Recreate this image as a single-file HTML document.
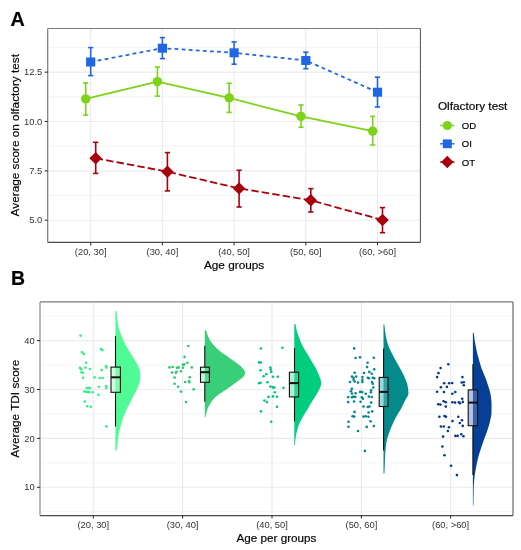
<!DOCTYPE html><html><head><meta charset="utf-8"><style>html,body{margin:0;padding:0;background:#fff;}svg{display:block;filter:blur(0.35px);}text{font-family:"Liberation Sans", sans-serif;stroke-width:0.18px;}</style></head><body>
<svg width="521" height="550" viewBox="0 0 521 550">
<line x1="47.7" y1="195.52" x2="420.45" y2="195.52" stroke="#ebebeb" stroke-width="0.6"/>
<line x1="47.7" y1="146.18" x2="420.45" y2="146.18" stroke="#ebebeb" stroke-width="0.6"/>
<line x1="47.7" y1="96.83" x2="420.45" y2="96.83" stroke="#ebebeb" stroke-width="0.6"/>
<line x1="47.7" y1="47.48" x2="420.45" y2="47.48" stroke="#ebebeb" stroke-width="0.6"/>
<line x1="47.7" y1="220.20" x2="420.45" y2="220.20" stroke="#ebebeb" stroke-width="1.1"/>
<line x1="47.7" y1="170.85" x2="420.45" y2="170.85" stroke="#ebebeb" stroke-width="1.1"/>
<line x1="47.7" y1="121.50" x2="420.45" y2="121.50" stroke="#ebebeb" stroke-width="1.1"/>
<line x1="47.7" y1="72.15" x2="420.45" y2="72.15" stroke="#ebebeb" stroke-width="1.1"/>
<line x1="90.7" y1="28.5" x2="90.7" y2="242.4" stroke="#ebebeb" stroke-width="1.1"/>
<line x1="162.4" y1="28.5" x2="162.4" y2="242.4" stroke="#ebebeb" stroke-width="1.1"/>
<line x1="234.1" y1="28.5" x2="234.1" y2="242.4" stroke="#ebebeb" stroke-width="1.1"/>
<line x1="305.8" y1="28.5" x2="305.8" y2="242.4" stroke="#ebebeb" stroke-width="1.1"/>
<line x1="377.5" y1="28.5" x2="377.5" y2="242.4" stroke="#ebebeb" stroke-width="1.1"/>
<polyline points="85.7,98.9 157.4,81.6 229.2,97.9 301.0,116.4 372.7,131.1" fill="none" stroke="#7dd21a" stroke-width="1.65"/>
<line x1="85.7" y1="82.9" x2="85.7" y2="115.1" stroke="#7dd21a" stroke-width="1.6"/>
<line x1="83.10000000000001" y1="82.9" x2="88.3" y2="82.9" stroke="#7dd21a" stroke-width="1.6"/>
<line x1="83.10000000000001" y1="115.1" x2="88.3" y2="115.1" stroke="#7dd21a" stroke-width="1.6"/>
<line x1="157.4" y1="67.0" x2="157.4" y2="96.1" stroke="#7dd21a" stroke-width="1.6"/>
<line x1="154.8" y1="67.0" x2="160.0" y2="67.0" stroke="#7dd21a" stroke-width="1.6"/>
<line x1="154.8" y1="96.1" x2="160.0" y2="96.1" stroke="#7dd21a" stroke-width="1.6"/>
<line x1="229.2" y1="83.3" x2="229.2" y2="112.4" stroke="#7dd21a" stroke-width="1.6"/>
<line x1="226.6" y1="83.3" x2="231.79999999999998" y2="83.3" stroke="#7dd21a" stroke-width="1.6"/>
<line x1="226.6" y1="112.4" x2="231.79999999999998" y2="112.4" stroke="#7dd21a" stroke-width="1.6"/>
<line x1="301.0" y1="105.0" x2="301.0" y2="127.3" stroke="#7dd21a" stroke-width="1.6"/>
<line x1="298.4" y1="105.0" x2="303.6" y2="105.0" stroke="#7dd21a" stroke-width="1.6"/>
<line x1="298.4" y1="127.3" x2="303.6" y2="127.3" stroke="#7dd21a" stroke-width="1.6"/>
<line x1="372.7" y1="116.4" x2="372.7" y2="145.0" stroke="#7dd21a" stroke-width="1.6"/>
<line x1="370.09999999999997" y1="116.4" x2="375.3" y2="116.4" stroke="#7dd21a" stroke-width="1.6"/>
<line x1="370.09999999999997" y1="145.0" x2="375.3" y2="145.0" stroke="#7dd21a" stroke-width="1.6"/>
<polyline points="90.7,62.0 162.4,48.2 234.1,52.8 305.8,60.5 377.5,92.2" fill="none" stroke="#1f66e5" stroke-width="1.75" stroke-dasharray="3.8 3.3"/>
<line x1="90.7" y1="47.6" x2="90.7" y2="75.6" stroke="#1f66e5" stroke-width="1.6"/>
<line x1="88.10000000000001" y1="47.6" x2="93.3" y2="47.6" stroke="#1f66e5" stroke-width="1.6"/>
<line x1="88.10000000000001" y1="75.6" x2="93.3" y2="75.6" stroke="#1f66e5" stroke-width="1.6"/>
<line x1="162.4" y1="37.6" x2="162.4" y2="58.6" stroke="#1f66e5" stroke-width="1.6"/>
<line x1="159.8" y1="37.6" x2="165.0" y2="37.6" stroke="#1f66e5" stroke-width="1.6"/>
<line x1="159.8" y1="58.6" x2="165.0" y2="58.6" stroke="#1f66e5" stroke-width="1.6"/>
<line x1="234.1" y1="41.9" x2="234.1" y2="64.2" stroke="#1f66e5" stroke-width="1.6"/>
<line x1="231.5" y1="41.9" x2="236.7" y2="41.9" stroke="#1f66e5" stroke-width="1.6"/>
<line x1="231.5" y1="64.2" x2="236.7" y2="64.2" stroke="#1f66e5" stroke-width="1.6"/>
<line x1="305.8" y1="52.2" x2="305.8" y2="68.7" stroke="#1f66e5" stroke-width="1.6"/>
<line x1="303.2" y1="52.2" x2="308.40000000000003" y2="52.2" stroke="#1f66e5" stroke-width="1.6"/>
<line x1="303.2" y1="68.7" x2="308.40000000000003" y2="68.7" stroke="#1f66e5" stroke-width="1.6"/>
<line x1="377.5" y1="77.2" x2="377.5" y2="107.0" stroke="#1f66e5" stroke-width="1.6"/>
<line x1="374.9" y1="77.2" x2="380.1" y2="77.2" stroke="#1f66e5" stroke-width="1.6"/>
<line x1="374.9" y1="107.0" x2="380.1" y2="107.0" stroke="#1f66e5" stroke-width="1.6"/>
<polyline points="95.7,158.2 167.4,171.7 239.1,188.4 310.8,200.3 382.5,220.0" fill="none" stroke="#a8000c" stroke-width="1.8" stroke-dasharray="7.4 3.2"/>
<line x1="95.7" y1="142.3" x2="95.7" y2="173.4" stroke="#a8000c" stroke-width="1.6"/>
<line x1="93.10000000000001" y1="142.3" x2="98.3" y2="142.3" stroke="#a8000c" stroke-width="1.6"/>
<line x1="93.10000000000001" y1="173.4" x2="98.3" y2="173.4" stroke="#a8000c" stroke-width="1.6"/>
<line x1="167.4" y1="152.6" x2="167.4" y2="190.9" stroke="#a8000c" stroke-width="1.6"/>
<line x1="164.8" y1="152.6" x2="170.0" y2="152.6" stroke="#a8000c" stroke-width="1.6"/>
<line x1="164.8" y1="190.9" x2="170.0" y2="190.9" stroke="#a8000c" stroke-width="1.6"/>
<line x1="239.1" y1="170.3" x2="239.1" y2="207.0" stroke="#a8000c" stroke-width="1.6"/>
<line x1="236.5" y1="170.3" x2="241.7" y2="170.3" stroke="#a8000c" stroke-width="1.6"/>
<line x1="236.5" y1="207.0" x2="241.7" y2="207.0" stroke="#a8000c" stroke-width="1.6"/>
<line x1="310.8" y1="188.6" x2="310.8" y2="212.0" stroke="#a8000c" stroke-width="1.6"/>
<line x1="308.2" y1="188.6" x2="313.40000000000003" y2="188.6" stroke="#a8000c" stroke-width="1.6"/>
<line x1="308.2" y1="212.0" x2="313.40000000000003" y2="212.0" stroke="#a8000c" stroke-width="1.6"/>
<line x1="382.5" y1="207.6" x2="382.5" y2="232.7" stroke="#a8000c" stroke-width="1.6"/>
<line x1="379.9" y1="207.6" x2="385.1" y2="207.6" stroke="#a8000c" stroke-width="1.6"/>
<line x1="379.9" y1="232.7" x2="385.1" y2="232.7" stroke="#a8000c" stroke-width="1.6"/>
<circle cx="85.7" cy="98.9" r="4.7" fill="#7dd21a"/>
<circle cx="157.4" cy="81.6" r="4.7" fill="#7dd21a"/>
<circle cx="229.2" cy="97.9" r="4.7" fill="#7dd21a"/>
<circle cx="301.0" cy="116.4" r="4.7" fill="#7dd21a"/>
<circle cx="372.7" cy="131.1" r="4.7" fill="#7dd21a"/>
<rect x="86.10000000000001" y="57.5" width="9.2" height="9" fill="#1f66e5"/>
<rect x="157.8" y="43.7" width="9.2" height="9" fill="#1f66e5"/>
<rect x="229.5" y="48.3" width="9.2" height="9" fill="#1f66e5"/>
<rect x="301.2" y="56.0" width="9.2" height="9" fill="#1f66e5"/>
<rect x="372.9" y="87.7" width="9.2" height="9" fill="#1f66e5"/>
<path d="M95.7 152.0 L102.0 158.2 L95.7 164.39999999999998 L89.4 158.2 Z" fill="#a8000c"/>
<path d="M167.4 165.5 L173.70000000000002 171.7 L167.4 177.89999999999998 L161.1 171.7 Z" fill="#a8000c"/>
<path d="M239.1 182.20000000000002 L245.4 188.4 L239.1 194.6 L232.79999999999998 188.4 Z" fill="#a8000c"/>
<path d="M310.8 194.10000000000002 L317.1 200.3 L310.8 206.5 L304.5 200.3 Z" fill="#a8000c"/>
<path d="M382.5 213.8 L388.8 220.0 L382.5 226.2 L376.2 220.0 Z" fill="#a8000c"/>
<line x1="47.7" y1="28.5" x2="420.45" y2="28.5" stroke="#7a7a7a" stroke-width="1.2"/>
<line x1="420.45" y1="28.5" x2="420.45" y2="242.4" stroke="#666" stroke-width="1.2"/>
<line x1="47.7" y1="242.4" x2="420.45" y2="242.4" stroke="#4a4a4a" stroke-width="1.2"/>
<line x1="47.7" y1="28.5" x2="47.7" y2="242.4" stroke="#7a7a7a" stroke-width="1.2"/>
<line x1="44.7" y1="220.20" x2="47.7" y2="220.20" stroke="#333333" stroke-width="1.1"/>
<text x="42.30" y="223.30" font-size="9.35" fill="#333333" text-anchor="end">5.0</text>
<line x1="44.7" y1="170.85" x2="47.7" y2="170.85" stroke="#333333" stroke-width="1.1"/>
<text x="42.30" y="173.95" font-size="9.35" fill="#333333" text-anchor="end">7.5</text>
<line x1="44.7" y1="121.50" x2="47.7" y2="121.50" stroke="#333333" stroke-width="1.1"/>
<text x="42.30" y="124.60" font-size="9.35" fill="#333333" text-anchor="end">10.0</text>
<line x1="44.7" y1="72.15" x2="47.7" y2="72.15" stroke="#333333" stroke-width="1.1"/>
<text x="42.30" y="75.25" font-size="9.35" fill="#333333" text-anchor="end">12.5</text>
<line x1="90.7" y1="242.4" x2="90.7" y2="245.4" stroke="#333333" stroke-width="1.1"/>
<text x="90.7" y="254.70" font-size="9.35" fill="#333333" text-anchor="middle">(20, 30]</text>
<line x1="162.4" y1="242.4" x2="162.4" y2="245.4" stroke="#333333" stroke-width="1.1"/>
<text x="162.4" y="254.70" font-size="9.35" fill="#333333" text-anchor="middle">(30, 40]</text>
<line x1="234.1" y1="242.4" x2="234.1" y2="245.4" stroke="#333333" stroke-width="1.1"/>
<text x="234.1" y="254.70" font-size="9.35" fill="#333333" text-anchor="middle">(40, 50]</text>
<line x1="305.8" y1="242.4" x2="305.8" y2="245.4" stroke="#333333" stroke-width="1.1"/>
<text x="305.8" y="254.70" font-size="9.35" fill="#333333" text-anchor="middle">(50, 60]</text>
<line x1="377.5" y1="242.4" x2="377.5" y2="245.4" stroke="#333333" stroke-width="1.1"/>
<text x="377.5" y="254.70" font-size="9.35" fill="#333333" text-anchor="middle">(60, &gt;60]</text>
<text x="234.1" y="268.6" font-size="11.8" fill="#000" stroke="#000" text-anchor="middle">Age groups</text>
<text transform="translate(18.6,135.2) rotate(-90)" x="0" y="0" font-size="11.8" fill="#000" stroke="#000" text-anchor="middle">Average score on olfactory test</text>
<text x="10.4" y="25.7" font-size="19.8" font-weight="bold" fill="#000" stroke="#000">A</text>
<text x="437.9" y="109.9" font-size="11.8" fill="#000" stroke="#000">Olfactory test</text>
<line x1="440.1" y1="125.5" x2="454.5" y2="125.5" stroke="#7dd21a" stroke-width="1.4"/>
<circle cx="447.3" cy="125.5" r="4.6" fill="#7dd21a"/>
<text x="461.7" y="129.10" font-size="9.6" fill="#000" stroke="#000">OD</text>
<line x1="440.1" y1="143.8" x2="454.5" y2="143.8" stroke="#1f66e5" stroke-width="1.4"/>
<rect x="442.8" y="139.4" width="9" height="8.8" fill="#1f66e5"/>
<text x="461.7" y="147.40" font-size="9.6" fill="#000" stroke="#000">OI</text>
<line x1="440.1" y1="162.0" x2="454.5" y2="162.0" stroke="#a8000c" stroke-width="1.4"/>
<path d="M447.3 155.8 L453.5 162.0 L447.3 168.2 L441.1 162.0 Z" fill="#a8000c"/>
<text x="461.7" y="165.60" font-size="9.6" fill="#000" stroke="#000">OT</text>
<line x1="40.0" y1="511.75" x2="513.0" y2="511.75" stroke="#ebebeb" stroke-width="0.6"/>
<line x1="40.0" y1="462.85" x2="513.0" y2="462.85" stroke="#ebebeb" stroke-width="0.6"/>
<line x1="40.0" y1="413.95" x2="513.0" y2="413.95" stroke="#ebebeb" stroke-width="0.6"/>
<line x1="40.0" y1="365.05" x2="513.0" y2="365.05" stroke="#ebebeb" stroke-width="0.6"/>
<line x1="40.0" y1="316.15" x2="513.0" y2="316.15" stroke="#ebebeb" stroke-width="0.6"/>
<line x1="40.0" y1="487.30" x2="513.0" y2="487.30" stroke="#ebebeb" stroke-width="1.1"/>
<line x1="40.0" y1="438.40" x2="513.0" y2="438.40" stroke="#ebebeb" stroke-width="1.1"/>
<line x1="40.0" y1="389.50" x2="513.0" y2="389.50" stroke="#ebebeb" stroke-width="1.1"/>
<line x1="40.0" y1="340.60" x2="513.0" y2="340.60" stroke="#ebebeb" stroke-width="1.1"/>
<line x1="93.3" y1="301.9" x2="93.3" y2="515.6" stroke="#ebebeb" stroke-width="1.1"/>
<line x1="182.6" y1="301.9" x2="182.6" y2="515.6" stroke="#ebebeb" stroke-width="1.1"/>
<line x1="272.0" y1="301.9" x2="272.0" y2="515.6" stroke="#ebebeb" stroke-width="1.1"/>
<line x1="361.4" y1="301.9" x2="361.4" y2="515.6" stroke="#ebebeb" stroke-width="1.1"/>
<line x1="450.6" y1="301.9" x2="450.6" y2="515.6" stroke="#ebebeb" stroke-width="1.1"/>
<path d="M115.4 311.1 L116.6 311.1 C116.73 312.35 117.15 316.22 117.40 318.60 C117.65 320.98 117.63 323.13 118.10 325.40 C118.57 327.67 119.40 329.92 120.20 332.20 C121.00 334.48 121.88 336.82 122.90 339.10 C123.92 341.38 125.05 343.63 126.30 345.90 C127.55 348.17 129.03 350.43 130.40 352.70 C131.77 354.97 133.20 357.23 134.50 359.50 C135.80 361.77 137.32 364.38 138.20 366.30 C139.08 368.22 139.45 369.38 139.80 371.00 C140.15 372.62 140.28 374.33 140.30 376.00 C140.32 377.67 140.23 379.33 139.90 381.00 C139.57 382.67 138.80 384.58 138.30 386.00 C137.80 387.42 137.78 387.70 136.90 389.50 C136.02 391.30 134.25 394.37 133.00 396.80 C131.75 399.23 130.60 401.68 129.40 404.10 C128.20 406.52 126.88 408.88 125.80 411.30 C124.72 413.72 123.75 416.17 122.90 418.60 C122.05 421.03 121.38 423.47 120.70 425.90 C120.02 428.33 119.28 430.78 118.80 433.20 C118.32 435.62 118.08 437.98 117.80 440.40 C117.52 442.82 117.30 446.00 117.10 447.70 C116.90 449.40 116.68 450.12 116.60 450.60 L115.4 450.6 Z" fill="#50fb96"/>
<circle cx="80.6" cy="335.6" r="1.3" fill="#2cf282"/>
<circle cx="100.9" cy="349" r="1.3" fill="#2cf282"/>
<circle cx="102.4" cy="350.1" r="1.3" fill="#2cf282"/>
<circle cx="82" cy="352.3" r="1.3" fill="#2cf282"/>
<circle cx="83.9" cy="353.9" r="1.3" fill="#2cf282"/>
<circle cx="86.2" cy="362.7" r="1.3" fill="#2cf282"/>
<circle cx="106" cy="366" r="1.3" fill="#2cf282"/>
<circle cx="106.4" cy="367.6" r="1.3" fill="#2cf282"/>
<circle cx="80" cy="367.9" r="1.3" fill="#2cf282"/>
<circle cx="81.2" cy="369.2" r="1.3" fill="#2cf282"/>
<circle cx="85.5" cy="367.6" r="1.3" fill="#2cf282"/>
<circle cx="89.9" cy="369" r="1.3" fill="#2cf282"/>
<circle cx="101.7" cy="370.1" r="1.3" fill="#2cf282"/>
<circle cx="81.5" cy="372.2" r="1.3" fill="#2cf282"/>
<circle cx="82.9" cy="372.7" r="1.3" fill="#2cf282"/>
<circle cx="83.1" cy="377.7" r="1.3" fill="#2cf282"/>
<circle cx="94.6" cy="377.4" r="1.3" fill="#2cf282"/>
<circle cx="99.7" cy="378" r="1.3" fill="#2cf282"/>
<circle cx="102.8" cy="378" r="1.3" fill="#2cf282"/>
<circle cx="86.8" cy="388" r="1.3" fill="#2cf282"/>
<circle cx="88.6" cy="388" r="1.3" fill="#2cf282"/>
<circle cx="89.7" cy="388" r="1.3" fill="#2cf282"/>
<circle cx="98.8" cy="386.8" r="1.3" fill="#2cf282"/>
<circle cx="106.1" cy="386" r="1.3" fill="#2cf282"/>
<circle cx="106.4" cy="387.9" r="1.3" fill="#2cf282"/>
<circle cx="84.3" cy="391.5" r="1.3" fill="#2cf282"/>
<circle cx="85.9" cy="391.8" r="1.3" fill="#2cf282"/>
<circle cx="87.9" cy="392" r="1.3" fill="#2cf282"/>
<circle cx="89.2" cy="392.2" r="1.3" fill="#2cf282"/>
<circle cx="92.7" cy="392.2" r="1.3" fill="#2cf282"/>
<circle cx="98.5" cy="394.7" r="1.3" fill="#2cf282"/>
<circle cx="84.8" cy="401.5" r="1.3" fill="#2cf282"/>
<circle cx="87.3" cy="406.2" r="1.3" fill="#2cf282"/>
<circle cx="90.8" cy="406.7" r="1.3" fill="#2cf282"/>
<circle cx="106.4" cy="426.4" r="1.3" fill="#2cf282"/>
<line x1="115.5" y1="336.0" x2="115.5" y2="367.1" stroke="#111" stroke-width="1.1"/>
<line x1="115.5" y1="392.3" x2="115.5" y2="426.5" stroke="#111" stroke-width="1.1"/>
<rect x="111.0" y="367.1" width="4.50" height="25.20" fill="#cffde0"/>
<rect x="115.5" y="367.1" width="4.90" height="25.20" fill="#80fbb2"/>
<rect x="111.0" y="367.1" width="9.40" height="25.20" fill="none" stroke="#111" stroke-width="1.1"/>
<line x1="111.0" y1="377.3" x2="120.4" y2="377.3" stroke="#111" stroke-width="2"/>
<path d="M204.8 330.2 L206.0 330.2 C206.37 331.25 207.43 334.65 208.20 336.50 C208.97 338.35 209.55 339.70 210.60 341.30 C211.65 342.90 212.98 344.50 214.50 346.10 C216.02 347.70 217.70 349.30 219.70 350.90 C221.70 352.50 224.25 354.10 226.50 355.70 C228.75 357.30 230.98 358.88 233.20 360.50 C235.42 362.12 238.03 363.90 239.80 365.40 C241.57 366.90 242.93 368.32 243.80 369.50 C244.67 370.68 244.97 371.42 245.00 372.50 C245.03 373.58 244.83 374.82 244.00 376.00 C243.17 377.18 241.80 378.18 240.00 379.60 C238.20 381.02 235.45 382.88 233.20 384.50 C230.95 386.12 228.82 387.70 226.50 389.30 C224.18 390.90 221.47 392.50 219.30 394.10 C217.13 395.70 215.03 397.30 213.50 398.90 C211.97 400.50 211.07 402.10 210.10 403.70 C209.13 405.30 208.33 406.88 207.70 408.50 C207.07 410.12 206.67 411.95 206.30 413.40 C205.93 414.85 205.63 416.57 205.50 417.20 L204.8 417.2 Z" fill="#38cf78"/>
<circle cx="188.3" cy="346" r="1.3" fill="#2cc670"/>
<circle cx="184.6" cy="356.9" r="1.3" fill="#2cc670"/>
<circle cx="187.4" cy="362.7" r="1.3" fill="#2cc670"/>
<circle cx="182.9" cy="364.8" r="1.3" fill="#2cc670"/>
<circle cx="184.2" cy="364.4" r="1.3" fill="#2cc670"/>
<circle cx="169.5" cy="367.4" r="1.3" fill="#2cc670"/>
<circle cx="172.7" cy="367" r="1.3" fill="#2cc670"/>
<circle cx="176.9" cy="367.8" r="1.3" fill="#2cc670"/>
<circle cx="178.5" cy="367.4" r="1.3" fill="#2cc670"/>
<circle cx="182.9" cy="367.8" r="1.3" fill="#2cc670"/>
<circle cx="191.8" cy="367.4" r="1.3" fill="#2cc670"/>
<circle cx="172.1" cy="372.5" r="1.3" fill="#2cc670"/>
<circle cx="175.9" cy="372.8" r="1.3" fill="#2cc670"/>
<circle cx="176.5" cy="371.8" r="1.3" fill="#2cc670"/>
<circle cx="181" cy="371.2" r="1.3" fill="#2cc670"/>
<circle cx="174.6" cy="377.6" r="1.3" fill="#2cc670"/>
<circle cx="189.7" cy="377.2" r="1.3" fill="#2cc670"/>
<circle cx="185.2" cy="382" r="1.3" fill="#2cc670"/>
<circle cx="189" cy="381" r="1.3" fill="#2cc670"/>
<circle cx="189.3" cy="382.3" r="1.3" fill="#2cc670"/>
<circle cx="174.6" cy="383.7" r="1.3" fill="#2cc670"/>
<circle cx="178.2" cy="386.8" r="1.3" fill="#2cc670"/>
<circle cx="193.7" cy="389.4" r="1.3" fill="#2cc670"/>
<circle cx="181" cy="391.6" r="1.3" fill="#2cc670"/>
<circle cx="186.1" cy="402" r="1.3" fill="#2cc670"/>
<line x1="204.8" y1="345.7" x2="204.8" y2="367.2" stroke="#111" stroke-width="1.1"/>
<line x1="204.8" y1="382.3" x2="204.8" y2="401.8" stroke="#111" stroke-width="1.1"/>
<rect x="200.5" y="367.2" width="4.30" height="15.10" fill="#cdf3da"/>
<rect x="204.8" y="367.2" width="4.60" height="15.10" fill="#5ad894"/>
<rect x="200.5" y="367.2" width="8.90" height="15.10" fill="none" stroke="#111" stroke-width="1.1"/>
<line x1="200.5" y1="372.2" x2="209.4" y2="372.2" stroke="#111" stroke-width="2"/>
<path d="M294.3 323.9 L295.4 323.9 C295.62 324.95 296.18 328.13 296.70 330.20 C297.22 332.27 297.78 334.27 298.50 336.30 C299.22 338.33 300.08 340.37 301.00 342.40 C301.92 344.43 302.88 346.47 304.00 348.50 C305.12 350.53 306.48 352.57 307.70 354.60 C308.92 356.63 310.08 358.67 311.30 360.70 C312.52 362.73 313.88 364.77 315.00 366.80 C316.12 368.83 317.08 370.87 318.00 372.90 C318.92 374.93 319.97 377.32 320.50 379.00 C321.03 380.68 321.18 381.77 321.20 383.00 C321.22 384.23 321.23 384.78 320.60 386.40 C319.97 388.02 318.57 390.58 317.40 392.70 C316.23 394.82 314.88 396.97 313.60 399.10 C312.32 401.23 310.98 403.38 309.70 405.50 C308.42 407.62 307.17 409.68 305.90 411.80 C304.63 413.92 303.27 416.08 302.10 418.20 C300.93 420.32 299.75 422.38 298.90 424.50 C298.05 426.62 297.53 428.77 297.00 430.90 C296.47 433.03 296.05 434.87 295.70 437.30 C295.35 439.73 295.03 444.13 294.90 445.50 L294.3 445.5 Z" fill="#00cd7e"/>
<circle cx="260.9" cy="348.5" r="1.3" fill="#00c47a"/>
<circle cx="282.4" cy="347.8" r="1.3" fill="#00c47a"/>
<circle cx="259" cy="362.4" r="1.3" fill="#00c47a"/>
<circle cx="260.9" cy="362.5" r="1.3" fill="#00c47a"/>
<circle cx="270.4" cy="367.5" r="1.3" fill="#00c47a"/>
<circle cx="270.8" cy="369.4" r="1.3" fill="#00c47a"/>
<circle cx="271.2" cy="371.9" r="1.3" fill="#00c47a"/>
<circle cx="260.6" cy="370.2" r="1.3" fill="#00c47a"/>
<circle cx="266.3" cy="374.3" r="1.3" fill="#00c47a"/>
<circle cx="263.6" cy="376.3" r="1.3" fill="#00c47a"/>
<circle cx="272.9" cy="376.8" r="1.3" fill="#00c47a"/>
<circle cx="277.8" cy="376.8" r="1.3" fill="#00c47a"/>
<circle cx="259" cy="383.3" r="1.3" fill="#00c47a"/>
<circle cx="260.6" cy="382.8" r="1.3" fill="#00c47a"/>
<circle cx="267.5" cy="382.2" r="1.3" fill="#00c47a"/>
<circle cx="270.4" cy="386.6" r="1.3" fill="#00c47a"/>
<circle cx="272.9" cy="387.4" r="1.3" fill="#00c47a"/>
<circle cx="274.2" cy="387.4" r="1.3" fill="#00c47a"/>
<circle cx="283.5" cy="387.7" r="1.3" fill="#00c47a"/>
<circle cx="274.8" cy="392.3" r="1.3" fill="#00c47a"/>
<circle cx="268.5" cy="396.9" r="1.3" fill="#00c47a"/>
<circle cx="272.9" cy="396.4" r="1.3" fill="#00c47a"/>
<circle cx="277" cy="396.7" r="1.3" fill="#00c47a"/>
<circle cx="264.4" cy="400.5" r="1.3" fill="#00c47a"/>
<circle cx="266.8" cy="402.1" r="1.3" fill="#00c47a"/>
<circle cx="277" cy="406.7" r="1.3" fill="#00c47a"/>
<circle cx="261" cy="411.4" r="1.3" fill="#00c47a"/>
<circle cx="271.2" cy="421.7" r="1.3" fill="#00c47a"/>
<line x1="294.5" y1="348.1" x2="294.5" y2="372.2" stroke="#111" stroke-width="1.1"/>
<line x1="294.5" y1="396.9" x2="294.5" y2="421.3" stroke="#111" stroke-width="1.1"/>
<rect x="289.4" y="372.2" width="5.10" height="24.70" fill="#b2efd6"/>
<rect x="294.5" y="372.2" width="4.10" height="24.70" fill="#2ad592"/>
<rect x="289.4" y="372.2" width="9.20" height="24.70" fill="none" stroke="#111" stroke-width="1.1"/>
<line x1="289.4" y1="383.1" x2="298.6" y2="383.1" stroke="#111" stroke-width="2"/>
<path d="M383.5 324.5 L384.4 324.5 C384.55 325.83 384.92 329.95 385.30 332.50 C385.68 335.05 386.10 337.37 386.70 339.80 C387.30 342.23 387.93 344.67 388.90 347.10 C389.87 349.53 391.28 351.98 392.50 354.40 C393.72 356.82 394.87 359.18 396.20 361.60 C397.53 364.02 399.17 366.47 400.50 368.90 C401.83 371.33 403.10 373.77 404.20 376.20 C405.30 378.63 406.42 381.08 407.10 383.50 C407.78 385.92 408.13 388.78 408.30 390.70 C408.47 392.62 408.65 393.33 408.10 395.00 C407.55 396.67 406.15 398.45 405.00 400.70 C403.85 402.95 402.62 405.92 401.20 408.50 C399.78 411.08 397.92 413.63 396.50 416.20 C395.08 418.77 393.85 421.33 392.70 423.90 C391.55 426.47 390.55 429.02 389.60 431.60 C388.65 434.18 387.63 436.82 387.00 439.40 C386.37 441.98 386.10 444.53 385.80 447.10 C385.50 449.67 385.35 452.23 385.20 454.80 C385.05 457.37 385.02 459.40 384.90 462.50 C384.78 465.60 384.57 471.58 384.50 473.40 L383.5 473.4 Z" fill="#058a8c"/>
<circle cx="354.2" cy="348.4" r="1.3" fill="#03858a"/>
<circle cx="355.6" cy="358" r="1.3" fill="#03858a"/>
<circle cx="360" cy="357.2" r="1.3" fill="#03858a"/>
<circle cx="373.8" cy="357.8" r="1.3" fill="#03858a"/>
<circle cx="367.6" cy="362.7" r="1.3" fill="#03858a"/>
<circle cx="367.1" cy="367.1" r="1.3" fill="#03858a"/>
<circle cx="374.2" cy="369.3" r="1.3" fill="#03858a"/>
<circle cx="354.7" cy="372.8" r="1.3" fill="#03858a"/>
<circle cx="364" cy="373" r="1.3" fill="#03858a"/>
<circle cx="369.3" cy="371.9" r="1.3" fill="#03858a"/>
<circle cx="371.7" cy="373.8" r="1.3" fill="#03858a"/>
<circle cx="352" cy="376.6" r="1.3" fill="#03858a"/>
<circle cx="353.6" cy="377.7" r="1.3" fill="#03858a"/>
<circle cx="356.2" cy="376.6" r="1.3" fill="#03858a"/>
<circle cx="362.4" cy="377.1" r="1.3" fill="#03858a"/>
<circle cx="367.8" cy="377.7" r="1.3" fill="#03858a"/>
<circle cx="368.9" cy="378.2" r="1.3" fill="#03858a"/>
<circle cx="372.8" cy="377.7" r="1.3" fill="#03858a"/>
<circle cx="374.2" cy="378.2" r="1.3" fill="#03858a"/>
<circle cx="353.6" cy="379.8" r="1.3" fill="#03858a"/>
<circle cx="354.7" cy="381.5" r="1.3" fill="#03858a"/>
<circle cx="362.4" cy="379.8" r="1.3" fill="#03858a"/>
<circle cx="362.4" cy="382" r="1.3" fill="#03858a"/>
<circle cx="350" cy="382" r="1.3" fill="#03858a"/>
<circle cx="358" cy="382.6" r="1.3" fill="#03858a"/>
<circle cx="372" cy="382" r="1.3" fill="#03858a"/>
<circle cx="372.8" cy="383.7" r="1.3" fill="#03858a"/>
<circle cx="351.8" cy="388.9" r="1.3" fill="#03858a"/>
<circle cx="373.3" cy="387.5" r="1.3" fill="#03858a"/>
<circle cx="371.1" cy="390.2" r="1.3" fill="#03858a"/>
<circle cx="370.9" cy="392.2" r="1.3" fill="#03858a"/>
<circle cx="350.9" cy="391.3" r="1.3" fill="#03858a"/>
<circle cx="352" cy="393.5" r="1.3" fill="#03858a"/>
<circle cx="355.6" cy="393.2" r="1.3" fill="#03858a"/>
<circle cx="360.2" cy="391.9" r="1.3" fill="#03858a"/>
<circle cx="362.2" cy="392.1" r="1.3" fill="#03858a"/>
<circle cx="365.7" cy="393.7" r="1.3" fill="#03858a"/>
<circle cx="348.2" cy="397.1" r="1.3" fill="#03858a"/>
<circle cx="352" cy="397.2" r="1.3" fill="#03858a"/>
<circle cx="353.6" cy="396.6" r="1.3" fill="#03858a"/>
<circle cx="355.3" cy="397" r="1.3" fill="#03858a"/>
<circle cx="361.8" cy="397.2" r="1.3" fill="#03858a"/>
<circle cx="362.9" cy="398.8" r="1.3" fill="#03858a"/>
<circle cx="368.9" cy="396.6" r="1.3" fill="#03858a"/>
<circle cx="371.7" cy="397" r="1.3" fill="#03858a"/>
<circle cx="348.2" cy="402.1" r="1.3" fill="#03858a"/>
<circle cx="354" cy="401.5" r="1.3" fill="#03858a"/>
<circle cx="360.5" cy="401.8" r="1.3" fill="#03858a"/>
<circle cx="371.1" cy="402.6" r="1.3" fill="#03858a"/>
<circle cx="363.5" cy="406.5" r="1.3" fill="#03858a"/>
<circle cx="367.8" cy="407" r="1.3" fill="#03858a"/>
<circle cx="369.5" cy="406.5" r="1.3" fill="#03858a"/>
<circle cx="354.5" cy="411.9" r="1.3" fill="#03858a"/>
<circle cx="368.6" cy="412.5" r="1.3" fill="#03858a"/>
<circle cx="372.2" cy="411.4" r="1.3" fill="#03858a"/>
<circle cx="352.6" cy="416.3" r="1.3" fill="#03858a"/>
<circle cx="354.2" cy="416.6" r="1.3" fill="#03858a"/>
<circle cx="363.5" cy="416.6" r="1.3" fill="#03858a"/>
<circle cx="365.7" cy="416.3" r="1.3" fill="#03858a"/>
<circle cx="368.4" cy="416.8" r="1.3" fill="#03858a"/>
<circle cx="348.5" cy="421.7" r="1.3" fill="#03858a"/>
<circle cx="370.6" cy="421.2" r="1.3" fill="#03858a"/>
<circle cx="348.5" cy="426.7" r="1.3" fill="#03858a"/>
<circle cx="366.7" cy="426.9" r="1.3" fill="#03858a"/>
<circle cx="373.8" cy="426.1" r="1.3" fill="#03858a"/>
<circle cx="358" cy="431" r="1.3" fill="#03858a"/>
<circle cx="364.9" cy="450.9" r="1.3" fill="#03858a"/>
<line x1="383.6" y1="348.6" x2="383.6" y2="377.4" stroke="#111" stroke-width="1.1"/>
<line x1="383.6" y1="406.5" x2="383.6" y2="450.6" stroke="#111" stroke-width="1.1"/>
<rect x="379.2" y="377.4" width="4.40" height="29.10" fill="#96dcdc"/>
<rect x="383.6" y="377.4" width="4.40" height="29.10" fill="#36a2a4"/>
<rect x="379.2" y="377.4" width="8.80" height="29.10" fill="none" stroke="#111" stroke-width="1.1"/>
<line x1="379.2" y1="391.9" x2="388.0" y2="391.9" stroke="#111" stroke-width="2"/>
<path d="M472.9 332.8 L473.7 332.8 C473.92 334.38 474.50 339.28 475.00 342.30 C475.50 345.32 476.05 348.03 476.70 350.90 C477.35 353.77 478.10 356.62 478.90 359.50 C479.70 362.38 480.48 365.32 481.50 368.20 C482.52 371.08 483.90 373.93 485.00 376.80 C486.10 379.67 487.18 382.52 488.10 385.40 C489.02 388.28 489.93 391.22 490.50 394.10 C491.07 396.98 491.33 399.82 491.50 402.70 C491.67 405.58 491.53 409.35 491.50 411.40 C491.47 413.45 491.63 412.97 491.30 415.00 C490.97 417.03 490.25 420.72 489.50 423.60 C488.75 426.48 487.80 429.42 486.80 432.30 C485.80 435.18 484.53 438.03 483.50 440.90 C482.47 443.77 481.52 446.62 480.60 449.50 C479.68 452.38 478.73 455.32 478.00 458.20 C477.27 461.08 476.75 463.93 476.20 466.80 C475.65 469.67 475.08 472.52 474.70 475.40 C474.32 478.28 474.08 481.22 473.90 484.10 C473.72 486.98 473.68 489.12 473.60 492.70 C473.52 496.28 473.43 503.45 473.40 505.60 L472.9 505.6 Z" fill="#073e96"/>
<circle cx="448.3" cy="364.2" r="1.3" fill="#06358a"/>
<circle cx="440.6" cy="368" r="1.3" fill="#06358a"/>
<circle cx="438.5" cy="373.1" r="1.3" fill="#06358a"/>
<circle cx="437.1" cy="377.1" r="1.3" fill="#06358a"/>
<circle cx="462.4" cy="377.1" r="1.3" fill="#06358a"/>
<circle cx="461.7" cy="382.5" r="1.3" fill="#06358a"/>
<circle cx="463.8" cy="382.2" r="1.3" fill="#06358a"/>
<circle cx="463.8" cy="385.2" r="1.3" fill="#06358a"/>
<circle cx="444.2" cy="383.3" r="1.3" fill="#06358a"/>
<circle cx="449.1" cy="383.3" r="1.3" fill="#06358a"/>
<circle cx="452.2" cy="383" r="1.3" fill="#06358a"/>
<circle cx="440.9" cy="387.3" r="1.3" fill="#06358a"/>
<circle cx="446.9" cy="386.9" r="1.3" fill="#06358a"/>
<circle cx="437.1" cy="391.8" r="1.3" fill="#06358a"/>
<circle cx="444" cy="392" r="1.3" fill="#06358a"/>
<circle cx="452.4" cy="393.7" r="1.3" fill="#06358a"/>
<circle cx="455.3" cy="392" r="1.3" fill="#06358a"/>
<circle cx="462.2" cy="398.8" r="1.3" fill="#06358a"/>
<circle cx="443.6" cy="401.3" r="1.3" fill="#06358a"/>
<circle cx="445.8" cy="402.2" r="1.3" fill="#06358a"/>
<circle cx="452.4" cy="402.2" r="1.3" fill="#06358a"/>
<circle cx="455.1" cy="402.6" r="1.3" fill="#06358a"/>
<circle cx="458.9" cy="402.2" r="1.3" fill="#06358a"/>
<circle cx="460" cy="403.3" r="1.3" fill="#06358a"/>
<circle cx="462.8" cy="401.9" r="1.3" fill="#06358a"/>
<circle cx="438.2" cy="404.3" r="1.3" fill="#06358a"/>
<circle cx="440.4" cy="404.6" r="1.3" fill="#06358a"/>
<circle cx="445.8" cy="406.6" r="1.3" fill="#06358a"/>
<circle cx="439.4" cy="416.7" r="1.3" fill="#06358a"/>
<circle cx="444.5" cy="416" r="1.3" fill="#06358a"/>
<circle cx="446" cy="416.7" r="1.3" fill="#06358a"/>
<circle cx="458.3" cy="416.7" r="1.3" fill="#06358a"/>
<circle cx="452.5" cy="421.1" r="1.3" fill="#06358a"/>
<circle cx="462" cy="420.3" r="1.3" fill="#06358a"/>
<circle cx="459.8" cy="423" r="1.3" fill="#06358a"/>
<circle cx="440.9" cy="426.5" r="1.3" fill="#06358a"/>
<circle cx="443.8" cy="426.5" r="1.3" fill="#06358a"/>
<circle cx="448.9" cy="427.3" r="1.3" fill="#06358a"/>
<circle cx="462.7" cy="425.9" r="1.3" fill="#06358a"/>
<circle cx="447.9" cy="431" r="1.3" fill="#06358a"/>
<circle cx="443.1" cy="436.6" r="1.3" fill="#06358a"/>
<circle cx="455.4" cy="435.9" r="1.3" fill="#06358a"/>
<circle cx="457.6" cy="435.9" r="1.3" fill="#06358a"/>
<circle cx="461.3" cy="434.2" r="1.3" fill="#06358a"/>
<circle cx="463.4" cy="436.3" r="1.3" fill="#06358a"/>
<circle cx="442.4" cy="446.5" r="1.3" fill="#06358a"/>
<circle cx="444.5" cy="455.2" r="1.3" fill="#06358a"/>
<circle cx="451.1" cy="465.8" r="1.3" fill="#06358a"/>
<circle cx="456.9" cy="475.1" r="1.3" fill="#06358a"/>
<line x1="472.9" y1="364.3" x2="472.9" y2="389.9" stroke="#111" stroke-width="1.1"/>
<line x1="472.9" y1="425.7" x2="472.9" y2="475.0" stroke="#111" stroke-width="1.1"/>
<rect x="468.2" y="389.9" width="4.70" height="35.80" fill="#b6c2e2"/>
<rect x="472.9" y="389.9" width="4.60" height="35.80" fill="#3563ad"/>
<rect x="468.2" y="389.9" width="9.30" height="35.80" fill="none" stroke="#111" stroke-width="1.1"/>
<line x1="468.2" y1="402.6" x2="477.5" y2="402.6" stroke="#111" stroke-width="2"/>
<line x1="40.0" y1="301.9" x2="513.0" y2="301.9" stroke="#7a7a7a" stroke-width="1.2"/>
<line x1="513.0" y1="301.9" x2="513.0" y2="515.6" stroke="#666" stroke-width="1.2"/>
<line x1="40.0" y1="515.6" x2="513.0" y2="515.6" stroke="#4a4a4a" stroke-width="1.2"/>
<line x1="40.0" y1="301.9" x2="40.0" y2="515.6" stroke="#8a8a8a" stroke-width="1.2"/>
<line x1="37.0" y1="487.30" x2="40.0" y2="487.30" stroke="#333333" stroke-width="1.1"/>
<text x="34.60" y="490.40" font-size="9.35" fill="#333333" text-anchor="end">10</text>
<line x1="37.0" y1="438.40" x2="40.0" y2="438.40" stroke="#333333" stroke-width="1.1"/>
<text x="34.60" y="441.50" font-size="9.35" fill="#333333" text-anchor="end">20</text>
<line x1="37.0" y1="389.50" x2="40.0" y2="389.50" stroke="#333333" stroke-width="1.1"/>
<text x="34.60" y="392.60" font-size="9.35" fill="#333333" text-anchor="end">30</text>
<line x1="37.0" y1="340.60" x2="40.0" y2="340.60" stroke="#333333" stroke-width="1.1"/>
<text x="34.60" y="343.70" font-size="9.35" fill="#333333" text-anchor="end">40</text>
<line x1="93.3" y1="515.6" x2="93.3" y2="518.6" stroke="#333333" stroke-width="1.1"/>
<text x="93.3" y="528.00" font-size="9.35" fill="#333333" text-anchor="middle">(20, 30]</text>
<line x1="182.6" y1="515.6" x2="182.6" y2="518.6" stroke="#333333" stroke-width="1.1"/>
<text x="182.6" y="528.00" font-size="9.35" fill="#333333" text-anchor="middle">(30, 40]</text>
<line x1="272.0" y1="515.6" x2="272.0" y2="518.6" stroke="#333333" stroke-width="1.1"/>
<text x="272.0" y="528.00" font-size="9.35" fill="#333333" text-anchor="middle">(40, 50]</text>
<line x1="361.4" y1="515.6" x2="361.4" y2="518.6" stroke="#333333" stroke-width="1.1"/>
<text x="361.4" y="528.00" font-size="9.35" fill="#333333" text-anchor="middle">(50, 60]</text>
<line x1="450.6" y1="515.6" x2="450.6" y2="518.6" stroke="#333333" stroke-width="1.1"/>
<text x="450.6" y="528.00" font-size="9.35" fill="#333333" text-anchor="middle">(60, &gt;60]</text>
<text x="276.5" y="542" font-size="11.7" fill="#000" stroke="#000" text-anchor="middle">Age per groups</text>
<text transform="translate(18.6,408.7) rotate(-90)" x="0" y="0" font-size="11.8" fill="#000" stroke="#000" text-anchor="middle">Average TDI score</text>
<text x="11.0" y="285.4" font-size="19.4" font-weight="bold" fill="#000" stroke="#000">B</text>
</svg></body></html>
